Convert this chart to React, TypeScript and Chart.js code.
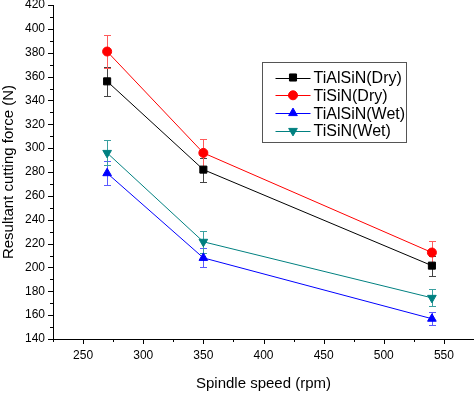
import React, { useEffect, useRef } from "react";
import { Chart, registerables } from "chart.js";
import { drawPoint } from "chart.js/helpers";

Chart.register(...registerables);

const speeds = [270, 350, 540];
const seriesNames = ["TiAlSiN(Dry)", "TiSiN(Dry)", "TiAlSiN(Wet)", "TiSiN(Wet)"];
const tialsinDry = [356, 282, 201.5];
const tialsinDryErr = [12, 10, 8.5];
const tisinDry = [381, 296, 212.5];
const tisinDryErr = [14, 12, 10];
const tialsinWet = [279, 208, 157];
const tialsinWetErr = [10, 8, 5.5];
const tisinWet = [296, 221.5, 174.5];
const tisinWetErr = [10.5, 9, 7];
const xTicks = [250, 300, 350, 400, 450, 500, 550];
const yTicks = [140, 160, 180, 200, 220, 240, 260, 280, 300, 320, 340, 360, 380, 400, 420];
const xMinorStep = 25;
const yMinorStep = 10;

const FONT = "'Liberation Sans', Arial, sans-serif";

const customPlugin = {
  id: "customDraw",
  beforeDatasetsDraw(chart: any) {
    const ctx = chart.ctx;
    const xs = chart.scales.x;
    const ys = chart.scales.y;
    chart.data.datasets.forEach((ds: any) => {
      ctx.save();
      ctx.strokeStyle = ds.errorColor;
      ctx.lineWidth = 1;
      ds.data.forEach((p: any, i: number) => {
        const e = ds.errors[i];
        const px = Math.round(xs.getPixelForValue(p.x)) + 0.5;
        const top = Math.round(ys.getPixelForValue(p.y + e)) + 0.5;
        const bot = Math.round(ys.getPixelForValue(p.y - e)) + 0.5;
        ctx.beginPath();
        ctx.moveTo(px, top);
        ctx.lineTo(px, bot);
        ctx.moveTo(px - 3.5, top);
        ctx.lineTo(px + 3.5, top);
        ctx.moveTo(px - 3.5, bot);
        ctx.lineTo(px + 3.5, bot);
        ctx.stroke();
      });
      ctx.restore();
    });
  },
  afterDraw(chart: any) {
    const ctx = chart.ctx;
    const xs = chart.scales.x;
    const ys = chart.scales.y;
    const area = chart.chartArea;
    ctx.save();
    ctx.strokeStyle = "#000";
    ctx.lineWidth = 1;
    ctx.beginPath();
    for (let v = xs.min; v <= xs.max + 0.001; v += xMinorStep) {
      const major = xTicks.includes(v);
      const px = Math.round(xs.getPixelForValue(v)) + 0.5;
      ctx.moveTo(px, area.bottom);
      ctx.lineTo(px, area.bottom + (major ? 5 : 3));
    }
    for (let v = ys.min; v <= ys.max + 0.001; v += yMinorStep) {
      const major = yTicks.includes(v);
      const py = Math.round(ys.getPixelForValue(v)) + 0.5;
      ctx.moveTo(area.left, py);
      ctx.lineTo(area.left - (major ? 5 : 3), py);
    }
    ctx.stroke();

    // legend
    const bx = area.left + 209.5;
    const by = area.top + 57.5;
    const bw = 144;
    const bh = 80;
    ctx.strokeStyle = "#555";
    ctx.lineWidth = 1;
    ctx.strokeRect(bx, by, bw, bh);
    ctx.font = `16px ${FONT}`;
    ctx.textBaseline = "middle";
    ctx.textAlign = "left";
    chart.data.datasets.forEach((ds: any, i: number) => {
      const y = by + 15 + i * 17.8;
      ctx.strokeStyle = ds.borderColor;
      ctx.lineWidth = 1;
      ctx.beginPath();
      ctx.moveTo(bx + 13, Math.round(y) + 0.5);
      ctx.lineTo(bx + 48, Math.round(y) + 0.5);
      ctx.stroke();
      ctx.fillStyle = ds.pointBackgroundColor;
      ctx.strokeStyle = ds.pointBorderColor;
      drawPoint(ctx, {
        pointStyle: ds.pointStyle,
        rotation: ds.pointRotation || 0,
        borderWidth: 1,
        radius: ds.pointRadius,
      } as any, bx + 30.5, y);
      ctx.fillStyle = "#000";
      ctx.fillText(ds.label, bx + 51, y + 1);
    });
    ctx.restore();
  },
};

function pts(vals: number[]) {
  return speeds.map((s, i) => ({ x: s, y: vals[i] }));
}

export default function App() {
  const ref = useRef<HTMLCanvasElement>(null);
  useEffect(() => {
    document.body.style.margin = "0";
    const mk = (label: string, vals: number[], errs: number[], color: string, errColor: string, style: string, radius: number, rot = 0) => ({
      label,
      data: pts(vals),
      errors: errs,
      errorColor: errColor,
      borderColor: color,
      backgroundColor: color,
      pointBackgroundColor: color,
      pointBorderColor: color,
      pointStyle: style,
      pointRadius: radius,
      pointRotation: rot,
      borderWidth: 1,
      tension: 0,
    });
    const chart = new Chart(ref.current as HTMLCanvasElement, {
      type: "line",
      data: {
        datasets: [
          mk(seriesNames[0], tialsinDry, tialsinDryErr, "#000000", "#444444", "rect", 5),
          mk(seriesNames[1], tisinDry, tisinDryErr, "#ff0000", "#ff5a5a", "circle", 4.5),
          mk(seriesNames[2], tialsinWet, tialsinWetErr, "#0000ff", "#5a5aff", "triangle", 5),
          mk(seriesNames[3], tisinWet, tisinWetErr, "#008080", "#3aa0a0", "triangle", 5, 180),
        ] as any,
      },
      options: {
        animation: false,
        responsive: false,
        devicePixelRatio: 1,
        layout: { autoPadding: false, padding: { top: 5, right: 0, left: 0, bottom: 0 } },
        plugins: { legend: { display: false }, tooltip: { enabled: false } },
        scales: {
          x: {
            type: "linear",
            min: 225,
            max: 575,
            afterBuildTicks: (s: any) => {
              s.ticks = xTicks.map((v) => ({ value: v }));
            },
            afterFit: (s: any) => {
              s.height = 55;
              s.paddingLeft = 0;
              s.paddingRight = 0;
            },
            grid: { display: false, drawTicks: false },
            border: { display: true, color: "#000", width: 1 },
            ticks: { color: "#000", font: { family: FONT, size: 12 }, padding: 9, maxRotation: 0 },
            title: { display: true, text: "Spindle speed (rpm)", color: "#000", font: { family: FONT, size: 15 }, padding: { top: 0, bottom: 1 } },
          },
          y: {
            type: "linear",
            min: 140,
            max: 420,
            afterBuildTicks: (s: any) => {
              s.ticks = yTicks.map((v) => ({ value: v }));
            },
            afterFit: (s: any) => {
              s.width = 53;
              s.paddingTop = 0;
              s.paddingBottom = 0;
            },
            grid: { display: false, drawTicks: false },
            border: { display: true, color: "#000", width: 1 },
            ticks: { color: "#000", font: { family: FONT, size: 12 }, padding: 8 },
            title: { display: true, text: "Resultant cutting force (N)", color: "#000", font: { family: FONT, size: 15 }, padding: { top: 0, bottom: 0 } },
          },
        },
      } as any,
      plugins: [customPlugin],
    });
    return () => chart.destroy();
  }, []);
  return (
    <div style={{ width: 474, height: 394 }}>
      <canvas ref={ref} width={474} height={394} />
    </div>
  );
}
